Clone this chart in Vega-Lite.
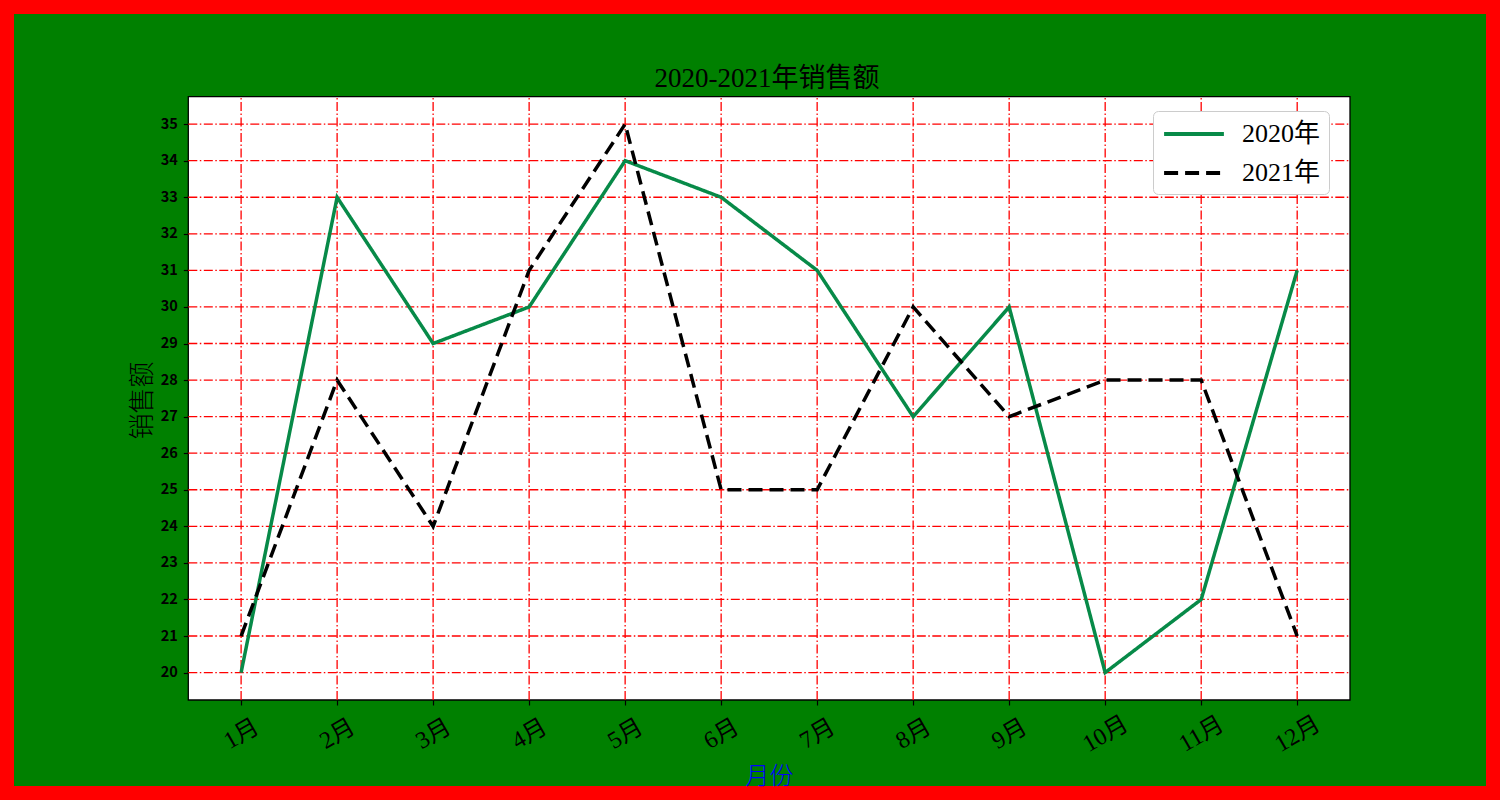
{
  "$schema": "https://vega.github.io/schema/vega-lite/v6.json",
  "width": 1472,
  "height": 772,
  "autosize": {"type": "none"},
  "padding": 14,
  "background": "#ff0000",
  "config": {"view": {"fill": "#008000", "stroke": null}},
  "title": {
    "text": "2020-2021年销售额",
    "font": "Liberation Serif, Noto Sans CJK SC",
    "fontSize": 27,
    "fontWeight": "normal",
    "color": "black",
    "anchor": "middle",
    "frame": "group",
    "baseline": "bottom",
    "offset": 0,
    "dy": 106,
    "dx": 17
  },
  "datasets": {
    "sales": [
      {"month": 1, "year": "2020年", "value": 20},
      {"month": 2, "year": "2020年", "value": 33},
      {"month": 3, "year": "2020年", "value": 29},
      {"month": 4, "year": "2020年", "value": 30},
      {"month": 5, "year": "2020年", "value": 34},
      {"month": 6, "year": "2020年", "value": 33},
      {"month": 7, "year": "2020年", "value": 31},
      {"month": 8, "year": "2020年", "value": 27},
      {"month": 9, "year": "2020年", "value": 30},
      {"month": 10, "year": "2020年", "value": 20},
      {"month": 11, "year": "2020年", "value": 22},
      {"month": 12, "year": "2020年", "value": 31},
      {"month": 1, "year": "2021年", "value": 21},
      {"month": 2, "year": "2021年", "value": 28},
      {"month": 3, "year": "2021年", "value": 24},
      {"month": 4, "year": "2021年", "value": 31},
      {"month": 5, "year": "2021年", "value": 35},
      {"month": 6, "year": "2021年", "value": 25},
      {"month": 7, "year": "2021年", "value": 25},
      {"month": 8, "year": "2021年", "value": 30},
      {"month": 9, "year": "2021年", "value": 27},
      {"month": 10, "year": "2021年", "value": 28},
      {"month": 11, "year": "2021年", "value": 28},
      {"month": 12, "year": "2021年", "value": 21}
    ],
    "months": [{"m": 1}, {"m": 2}, {"m": 3}, {"m": 4}, {"m": 5}, {"m": 6}, {"m": 7}, {"m": 8}, {"m": 9}, {"m": 10}, {"m": 11}, {"m": 12}],
    "levels": [{"v": 20}, {"v": 21}, {"v": 22}, {"v": 23}, {"v": 24}, {"v": 25}, {"v": 26}, {"v": 27}, {"v": 28}, {"v": 29}, {"v": 30}, {"v": 31}, {"v": 32}, {"v": 33}, {"v": 34}, {"v": 35}],
    "frame": [{"x0": 0.45, "x1": 12.55, "y0": 19.25, "y1": 35.75}]
  },
  "layer": [
    {
      "data": {"name": "frame"},
      "mark": {"type": "rect", "fill": "white", "stroke": "black", "strokeWidth": 1.3},
      "encoding": {
        "x": {
          "field": "x0",
          "type": "quantitative",
          "scale": {"domain": [-1.3655, 13.9666], "nice": false, "zero": false},
          "axis": {
            "values": [1, 2, 3, 4, 5, 6, 7, 8, 9, 10, 11, 12],
            "labelExpr": "datum.value + '月'",
            "offset": -86,
            "domain": false,
            "grid": false,
            "ticks": true,
            "tickColor": "black",
            "tickSize": 5,
            "tickWidth": 1.2,
            "labelAngle": -30,
            "labelAlign": "center",
            "labelBaseline": "middle",
            "labelPadding": 29,
            "labelFont": "Liberation Serif, Noto Sans CJK SC",
            "labelFontSize": 24,
            "labelColor": "black",
            "labelFlush": false,
            "labelOverlap": false,
            "title": "月份",
            "titleColor": "#0000ff",
            "titleFont": "Noto Sans CJK SC",
            "titleFontSize": 24,
            "titleFontWeight": 300,
            "titleX": 755,
            "titleAlign": "center",
            "titlePadding": 8
          }
        },
        "x2": {"field": "x1"},
        "y": {
          "field": "y0",
          "type": "quantitative",
          "scale": {"domain": [16.898, 38.012], "nice": false, "zero": false},
          "axis": {
            "values": [20, 21, 22, 23, 24, 25, 26, 27, 28, 29, 30, 31, 32, 33, 34, 35],
            "offset": -174.3,
            "domain": false,
            "grid": false,
            "tickColor": "black",
            "tickSize": 5,
            "tickWidth": 1.2,
            "labelFont": "Noto Sans CJK SC",
            "labelFontWeight": "bold",
            "labelFontSize": 14.5,
            "labelColor": "black",
            "labelPadding": 6,
            "labelFlush": false,
            "labelOverlap": false,
            "title": "销售额",
            "titleColor": "black",
            "titleFont": "Noto Sans CJK SC",
            "titleFontSize": 26,
            "titleFontWeight": 300,
            "titlePadding": 5
          }
        },
        "y2": {"field": "y1"}
      }
    },
    {
      "data": {"name": "months"},
      "mark": {"type": "rule", "color": "#ff0000", "strokeWidth": 1.3, "strokeDash": [9, 2.5, 1.5, 2.5]},
      "encoding": {
        "x": {"field": "m", "type": "quantitative"},
        "y": {"datum": 19.25, "type": "quantitative"},
        "y2": {"datum": 35.75}
      }
    },
    {
      "data": {"name": "levels"},
      "mark": {"type": "rule", "color": "#ff0000", "strokeWidth": 1.3, "strokeDash": [9, 2.5, 1.5, 2.5]},
      "encoding": {
        "y": {"field": "v", "type": "quantitative"},
        "x": {"datum": 0.45, "type": "quantitative"},
        "x2": {"datum": 12.55}
      }
    },
    {
      "data": {"name": "sales"},
      "mark": {"type": "line", "strokeWidth": 3.5},
      "encoding": {
        "x": {"field": "month", "type": "quantitative"},
        "y": {"field": "value", "type": "quantitative"},
        "color": {
          "field": "year",
          "type": "nominal",
          "scale": {"domain": ["2020年", "2021年"], "range": ["#078a48", "#000000"]},
          "legend": {
            "title": null,
            "orient": "none",
            "legendX": 1139,
            "legendY": 97,
            "fillColor": "white",
            "strokeColor": "#cccccc",
            "cornerRadius": 5,
            "padding": 8,
            "symbolType": "M-2.3,0H2.3",
            "symbolSize": 676,
            "symbolOffset": 18,
            "symbolStrokeWidth": 4,
            "labelFont": "Liberation Serif, Noto Sans CJK SC",
            "labelFontSize": 26,
            "labelColor": "black",
            "labelOffset": 33,
            "rowPadding": 11
          }
        },
        "strokeDash": {
          "field": "year",
          "type": "nominal",
          "scale": {"domain": ["2020年", "2021年"], "range": [[1, 0], [14, 7]]},
          "legend": null
        }
      }
    }
  ]
}
